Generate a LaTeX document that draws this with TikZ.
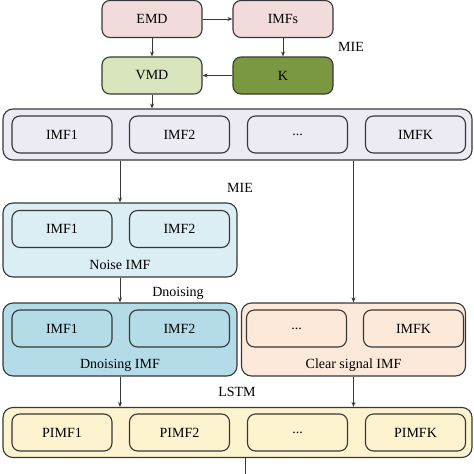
\documentclass[tikz,border=0pt]{standalone}
\usepackage{fontspec}
\setmainfont{Liberation Serif}
\usetikzlibrary{arrows.meta}
\definecolor{strk}{RGB}{55,55,55}
\definecolor{pinkc}{RGB}{242,220,219}
\definecolor{lgreen}{RGB}{216,228,188}
\definecolor{dgreen}{RGB}{122,152,64}
\definecolor{lav}{RGB}{236,234,242}
\definecolor{noiseb}{RGB}{218,238,243}
\definecolor{dnoiseb}{RGB}{180,220,232}
\definecolor{clearb}{RGB}{253,233,217}
\definecolor{finalb}{RGB}{253,243,207}
\tikzset{
  box/.style={draw=strk, line width=1.1pt, rounded corners=8pt, minimum width=100pt, minimum height=37pt, inner sep=0pt, font=\fontsize{14}{16}\selectfont},
  outer/.style={draw=strk, line width=1.1pt, rounded corners=10pt, inner sep=0pt},
  conn/.style={draw=strk, line width=0.9pt, -{Stealth[length=5pt,width=4pt]}},
  plain/.style={draw=strk, line width=0.9pt},
  lbl/.style={font=\fontsize{14}{16}\selectfont, inner sep=0pt}
}
\begin{document}
\begin{tikzpicture}[x=1pt,y=-1pt]
\useasboundingbox (0,0) rectangle (474,474);
% top part
\node[box, fill=pinkc] (emd) at (152,19) {EMD};
\node[box, fill=pinkc] (imfs) at (283,19) {IMFs};
\node[box, fill=lgreen] (vmd) at (152,75.5) {VMD};
\node[box, fill=dgreen] (k) at (283,75.5) {K};
\node[lbl] (mie1) at (351,47) {MIE};
% row 1
\node[outer, fill=lav, minimum width=469pt, minimum height=51pt] (row1) at (237.5,134.5) {};
\node[box, fill=lav] (r1a) at (62,134.5) {IMF1};
\node[box, fill=lav] (r1b) at (179.5,134.5) {IMF2};
\node[box, fill=lav] (r1c) at (297.5,134.5) {...};
\node[box, fill=lav] (r1d) at (415.5,134.5) {IMFK};
\node[lbl] (mie2) at (240,188) {MIE};
% noise
\node[outer, fill=noiseb, minimum width=234pt, minimum height=74pt] (noise) at (120,240) {};
\node[box, fill=noiseb] (n1) at (62,229) {IMF1};
\node[box, fill=noiseb] (n2) at (179.5,229) {IMF2};
\node[lbl] (noisel) at (120,265) {Noise IMF};
\node[lbl] (dn) at (178,293) {Dnoising};
% dnoising
\node[outer, fill=dnoiseb, minimum width=234pt, minimum height=73pt] (dnoise) at (120,339.5) {};
\node[box, fill=dnoiseb] (d1) at (62,328.5) {IMF1};
\node[box, fill=dnoiseb] (d2) at (179.5,328.5) {IMF2};
\node[lbl] (dnoisel) at (120,365) {Dnoising IMF};
% clear
\node[outer, fill=clearb, minimum width=224pt, minimum height=73pt] (clear) at (353.5,339.5) {};
\node[box, fill=clearb] (c1) at (296.5,328.5) {...};
\node[box, fill=clearb] (c2) at (413.5,328.5) {IMFK};
\node[lbl] (clearl) at (353.5,365) {Clear signal IMF};
\node[lbl] (lstm) at (237,392) {LSTM};
% final
\node[outer, fill=finalb, minimum width=469pt, minimum height=50pt] (final) at (237.5,432.5) {};
\node[box, fill=finalb] (f1) at (62,432.5) {PIMF1};
\node[box, fill=finalb] (f2) at (179.5,432.5) {PIMF2};
\node[box, fill=finalb] (f3) at (297.5,432.5) {...};
\node[box, fill=finalb] (f4) at (415.5,432.5) {PIMFK};
\coordinate (out) at (245,476);
% connectors
\draw[conn] (emd) -- (imfs);
\draw[conn] (emd) -- (vmd);
\draw[conn] (imfs) -- (k);
\draw[conn] (k) -- (vmd);
\draw[conn] (vmd) -- (vmd |- row1.north);
\draw[conn] (noise.north |- row1.south) -- (noise.north);
\draw[conn] (clear.north |- row1.south) -- (clear.north);
\draw[conn] (noise) -- (dnoise);
\draw[conn] (dnoise.south) -- (dnoise.south |- final.north);
\draw[conn] (clear.south) -- (clear.south |- final.north);
\draw[plain] (final.south -| out) -- (out);
\end{tikzpicture}
\end{document}
